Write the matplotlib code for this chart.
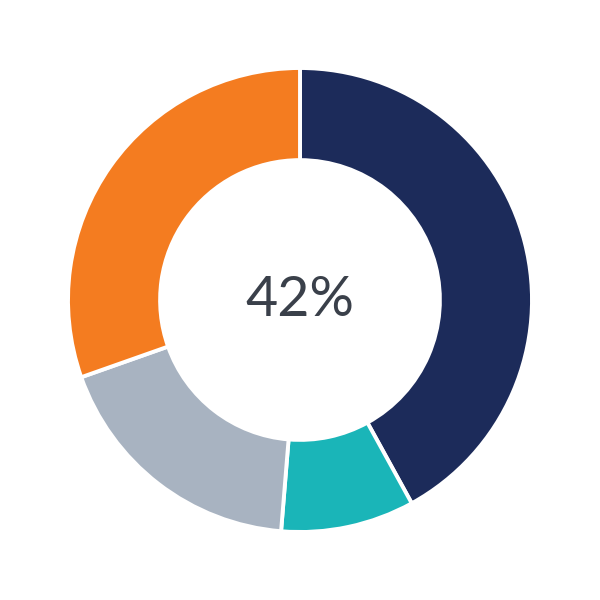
import matplotlib
matplotlib.use("Agg")
import matplotlib.pyplot as plt

labels = ["Navy", "Teal", "Gray", "Orange"]
values = [42, 9.3, 18.3, 30.4]
colors = ["#1c2b5a", "#1ab5b8", "#a8b3c1", "#f47c20"]
center_text = "42%"

fig = plt.figure(figsize=(6, 6), dpi=100)
ax = fig.add_axes([0, 0, 1, 1])
ax.pie(values, colors=colors, startangle=90, counterclock=False,
       radius=1.0, wedgeprops=dict(width=0.397, edgecolor="white", linewidth=2.8))
lim = 300 / 232
ax.set_xlim(-lim, lim)
ax.set_ylim(-lim, lim)
ax.set_aspect("equal")
ax.axis("off")
ax.text(0, 0, center_text, ha="center", va="center", fontsize=40,
        family=["Lato", "DejaVu Sans"], color="#3a404a")
fig.savefig("out.png", dpi=100)
